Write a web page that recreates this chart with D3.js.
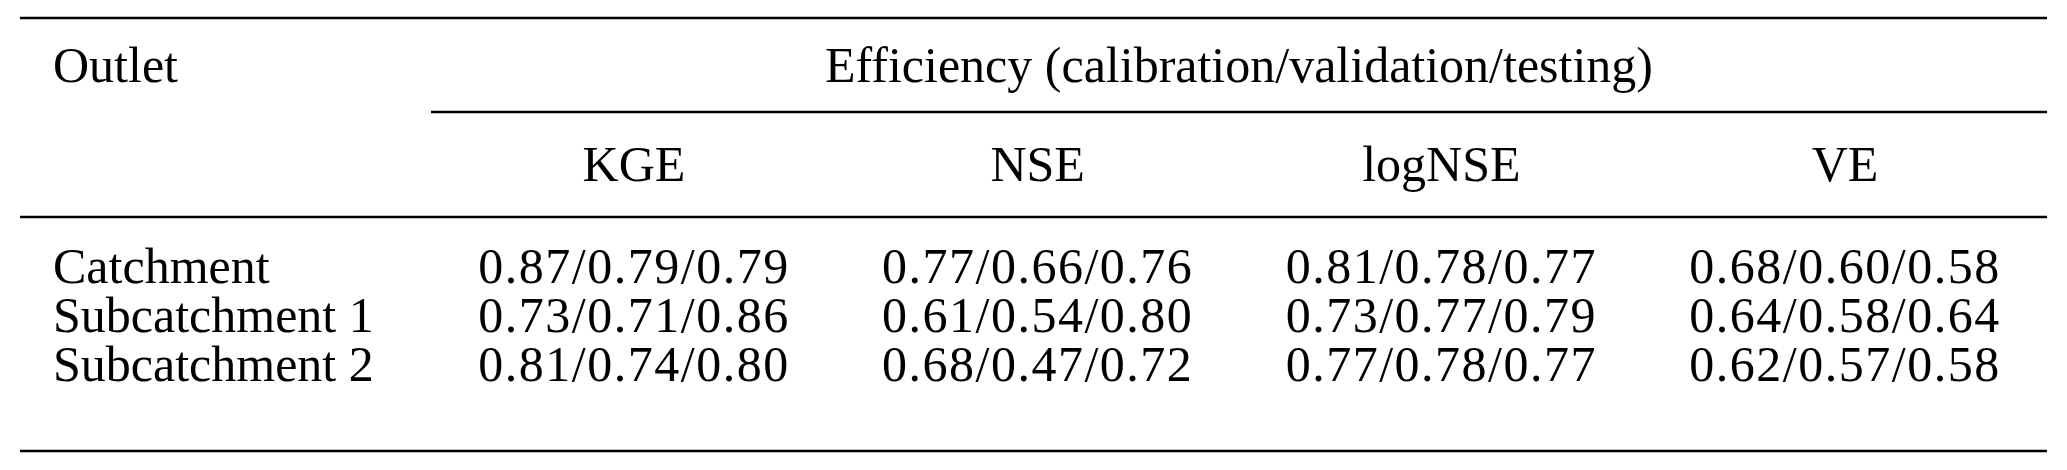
<!DOCTYPE html>
<html><head><meta charset="utf-8">
<script src="https://cdn.jsdelivr.net/npm/d3@7"></script>
<style>body{margin:0;background:#fff} text{font-family:"Liberation Serif","Times New Roman",Times,"DejaVu Serif",serif}</style></head>
<body><svg id="c" width="2067" height="470"></svg>
<script>
const outlets = ["Catchment", "Subcatchment 1", "Subcatchment 2"];
const metrics = ["KGE", "NSE", "logNSE", "VE"];
const kge = ["0.87/0.79/0.79", "0.73/0.71/0.86", "0.81/0.74/0.80"];
const nse = ["0.77/0.66/0.76", "0.61/0.54/0.80", "0.68/0.47/0.72"];
const lognse = ["0.81/0.78/0.77", "0.73/0.77/0.79", "0.77/0.78/0.77"];
const ve = ["0.68/0.60/0.58", "0.64/0.58/0.64", "0.62/0.57/0.58"];
const columns = [kge, nse, lognse, ve];

const svg = d3.select("#c");
const fs = 50;
const x = d3.scalePoint().domain(metrics).range([634, 1845]);
const y = d3.scalePoint().domain(outlets).range([283, 381]);

const rule = (x1, x2, yy) => svg.append("line").attr("x1", x1).attr("x2", x2)
  .attr("y1", yy).attr("y2", yy).attr("stroke", "#000").attr("stroke-width", 2.4);
rule(20, 2047, 18);
rule(431, 2047, 112);
rule(20, 2047, 217);
rule(20, 2047, 451);

const t = (s, xx, yy, anchor, ls) => svg.append("text").attr("x", xx).attr("y", yy)
  .attr("text-anchor", anchor).attr("font-size", fs)
  .attr("letter-spacing", ls || 0)
  .attr("fill", "#000").text(s);

t("Outlet", 53, 82, "start");
t("Efficiency (calibration/validation/testing)", 1239, 82, "middle");
metrics.forEach(m => t(m, x(m), 181, "middle"));
outlets.forEach((o, i) => {
  t(o, 53, y(o), "start");
  metrics.forEach((m, j) => t(columns[j][i], x(m), y(o), "middle", 1.5));
});
</script></body></html>
